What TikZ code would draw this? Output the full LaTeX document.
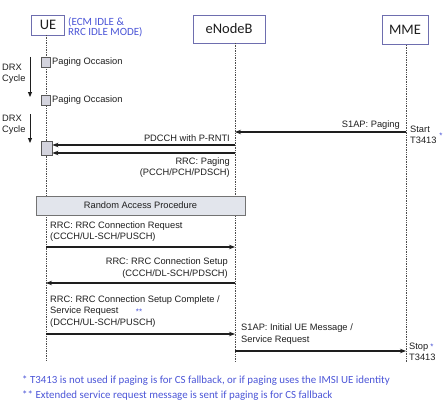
\documentclass[tikz,border=0pt]{standalone}
\usepackage{fontspec}
\setmainfont{Liberation Sans}
\newfontfamily\calfont{Carlito}
\usetikzlibrary{arrows.meta}
\definecolor{boxblue}{RGB}{110,110,175}
\definecolor{lblue}{RGB}{75,85,215}
\definecolor{ink}{RGB}{30,30,30}
\definecolor{pofill}{RGB}{212,212,222}
\definecolor{rafill}{RGB}{226,229,236}
\begin{document}
\begin{tikzpicture}[x=1pt,y=-1pt,
  entity/.style={draw=boxblue, line width=0.8, fill=white, inner sep=0,
    font=\calfont\fontsize{14.5}{16}\selectfont, text=ink},
  lifeline/.style={densely dotted, draw=black!70, line width=0.7},
  msg/.style={-{Stealth[length=6,width=4.5]}, line width=1.1, draw=ink},
  drx/.style={-{Triangle[length=5,width=4]}, line width=0.9, draw=ink},
  lbl/.style={font=\fontsize{9.3}{11.5}\selectfont, text=ink, inner sep=0},
  pobox/.style={draw=black!65, fill=pofill, line width=0.8, inner sep=0},
  note/.style={font=\calfont\fontsize{10.9}{12}\selectfont, text=lblue, inner sep=0, anchor=west},
  star/.style={font=\fontsize{8}{8}\selectfont, text=lblue, inner sep=0}]
\useasboundingbox (0,0) rectangle (447,404);

% entities
\node[entity, minimum width=33, minimum height=20] (ue) at (48,25) {UE};
\node[entity, minimum width=72, minimum height=28] (enb) at (229,29) {eNodeB};
\node[entity, minimum width=46, minimum height=29] (mme) at (405,29.5) {MME};
\node[font=\calfont\fontsize{11}{10.5}\selectfont, text=lblue, align=left, anchor=west, inner sep=0] (state) at (68,27) {(ECM IDLE \&\\RRC IDLE MODE)};

% lifelines
\coordinate (ueT) at (46,35);  \coordinate (ueB) at (46,360);
\coordinate (enT) at (235,43); \coordinate (enB) at (235,362);
\coordinate (mmT) at (406,45); \coordinate (mmB) at (406,362);
\draw[lifeline] (ueT) -- (ueB);
\draw[lifeline] (enT) -- (enB);
\draw[lifeline] (mmT) -- (mmB);

% paging occasions
\node[pobox, minimum width=9, minimum height=10] (po1) at (46,62) {};
\node[pobox, minimum width=9, minimum height=10] (po2) at (46,100) {};
\node[pobox, minimum width=11, minimum height=14] (po3) at (46.5,148) {};
\node[lbl, anchor=west] (pol1) at (52,62) {Paging Occasion};
\node[lbl, anchor=west] (pol2) at (52,100) {Paging Occasion};

% DRX cycles
\coordinate (d1a) at (30,57); \coordinate (d1b) at (30,97);
\coordinate (d2a) at (30,114); \coordinate (d2b) at (30,143);
\draw[drx] (d1a) -- (d1b);
\draw[drx] (d2a) -- (d2b);
\node[lbl, anchor=west, align=left] (drx1) at (2,74) {DRX\\Cycle};
\node[lbl, anchor=west, align=left] (drx2) at (2,125) {DRX\\Cycle};

% S1AP paging
\coordinate (m1) at (406,132); \coordinate (e1) at (235,132);
\draw[msg] (m1) -- (e1);
\node[lbl, anchor=east] (s1p) at (400,125) {S1AP: Paging};
\node[lbl, anchor=west, align=left] (start) at (410,135) {Start\\T3413};
\node[star] (st1) at (441,136) {*};

% PDCCH / RRC paging
\coordinate (e2) at (235,145); \coordinate (u2) at (po3.east |- e2);
\coordinate (e3) at (235,153); \coordinate (u3) at (po3.east |- e3);
\draw[msg] (e2) -- (u2);
\draw[msg] (e3) -- (u3);
\node[lbl, anchor=east] (pdcch) at (230,138) {PDCCH with P-RNTI};
\node[lbl, anchor=east, align=right] (rrcp) at (230,167.5) {RRC: Paging\\(PCCH/PCH/PDSCH)};

% random access
\node[draw=black!55, fill=rafill, line width=0.8, minimum width=209, minimum height=19, inner sep=0, lbl] (ra) at (140.5,205.5) {Random Access Procedure};

% RRC connection request
\coordinate (u4) at (46,247); \coordinate (e4) at (235,247);
\draw[msg] (u4) -- (e4);
\node[lbl, anchor=west, align=left] (req) at (50,231.5) {RRC: RRC Connection Request\\(CCCH/UL-SCH/PUSCH)};

% RRC connection setup
\coordinate (e5) at (235,283); \coordinate (u5) at (46,283);
\draw[msg] (e5) -- (u5);
\node[lbl, anchor=east, align=right] (setup) at (228,268) {RRC: RRC Connection Setup\\(CCCH/DL-SCH/PDSCH)};

% setup complete
\coordinate (u6) at (46,334); \coordinate (e6) at (235,334);
\draw[msg] (u6) -- (e6);
\node[lbl, anchor=west, align=left] (compl) at (50,311.5) {RRC: RRC Connection Setup Complete /\\Service Request\\(DCCH/UL-SCH/PUSCH)};
\node[star] (st2) at (139,312) {**};

% S1AP initial UE message
\coordinate (e7) at (235,351); \coordinate (m7) at (406,351);
\draw[msg] (e7) -- (m7);
\node[lbl, anchor=west, align=left] (init) at (241,334) {S1AP: Initial UE Message /\\Service Request};
\node[lbl, anchor=west, align=left] (stop) at (409,352) {Stop\\T3413};
\node[star] (st3) at (432,347) {*};

% footnotes
\node[note] (n1) at (22,381) {* T3413 is not used if paging is for CS fallback, or if paging uses the IMSI UE identity};
\node[note] (n2) at (22,396) {** Extended service request message is sent if paging is for CS fallback};
\end{tikzpicture}
\end{document}
